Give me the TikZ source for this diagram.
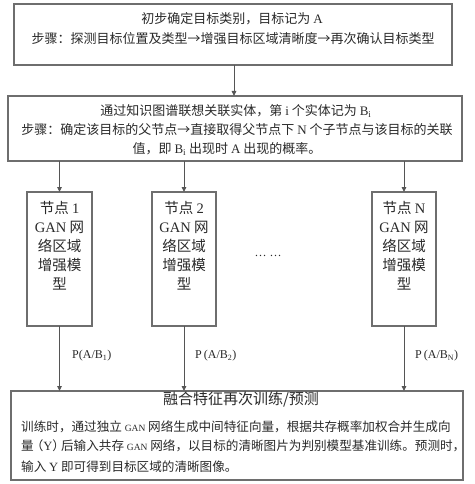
\documentclass[tikz,border=0pt]{standalone}
\usepackage{fontspec}
\setmainfont{Noto Sans CJK SC}
\newfontfamily\latf{Liberation Serif}
\usetikzlibrary{arrows.meta}
\definecolor{boxc}{HTML}{6E6E6E}
\definecolor{linec}{HTML}{555555}
\definecolor{textc}{HTML}{2A2A2A}
\newcommand{\smgan}{{\latf\fontsize{9.5}{10}\selectfont GAN}}
\begin{document}
\begin{tikzpicture}[x=1pt,y=-1pt,
  box/.style={draw=boxc, line width=1.1pt, inner sep=0pt, outer sep=0pt, anchor=north west},
  arr/.style={draw=linec, line width=0.9pt, -{Triangle[length=5pt,width=4.5pt]}},
  txt/.style={text=textc, inner sep=0pt, font=\fontsize{13}{19.5}\selectfont},
  btxt/.style={text=textc, inner sep=0pt, anchor=west, font=\fontsize{12.6}{19.5}\selectfont},
  ntxt/.style={text=textc, inner sep=0pt, align=center, font=\fontsize{14.5}{19}\selectfont},
  lbl/.style={text=textc, inner sep=0pt, anchor=west, font=\latf\fontsize{12}{14}\selectfont}]
\useasboundingbox (0,0) rectangle (474,484);
\fill[white] (0,0) rectangle (474,484);
% boxes
\node[box, minimum width=438pt, minimum height=61pt] (b1) at (14,4) {};
\node[box, minimum width=454pt, minimum height=65pt] (b2) at (8,96) {};
\node[box, minimum width=65pt, minimum height=134pt] (n1) at (27,192) {};
\node[box, minimum width=64pt, minimum height=134pt] (n2) at (152,192) {};
\node[box, minimum width=64pt, minimum height=134pt] (nN) at (372,192) {};
\node[box, minimum width=452pt, minimum height=89pt] (b3) at (11,391) {};
% texts box 1
\node[txt] (t11) at (232,19) {初步确定目标类别，目标记为 {\latf A}};
\node[txt] (t12) at (233,39) {步骤：探测目标位置及类型→增强目标区域清晰度→再次确认目标类型};
% texts box 2
\node[txt] (t21) at (236,111) {通过知识图谱联想关联实体，第 {\latf i} 个实体记为 {\latf B\textsubscript{i}}};
\node[txt] (t22) at (237,130) {步骤：确定该目标的父节点→直接取得父节点下 {\latf N} 个子节点与该目标的关联};
\node[txt] (t23) at (227,149) {值，即 {\latf B\textsubscript{i}} 出现时 {\latf A} 出现的概率。};
% node texts
\node[ntxt] (tn1) at (59.5,245.5) {节点 {\latf 1}\\{\latf GAN} 网\\络区域\\增强模\\型};
\node[ntxt] (tn2) at (184,245.5) {节点 {\latf 2}\\{\latf GAN} 网\\络区域\\增强模\\型};
\node[ntxt] (tnN) at (404,245.5) {节点 {\latf N}\\{\latf GAN} 网\\络区域\\增强模\\型};
\node[text=textc, inner sep=0pt, font=\latf\fontsize{12}{14}\selectfont] (dots) at (268,256) {\dots\ \dots};
% bottom box texts
\node[txt, font=\fontsize{15}{19}\selectfont] (t30) at (241,400) {融合特征再次训练/预测};
\node[btxt] (t31) at (21,427) {训练时，通过独立 \smgan\ 网络生成中间特征向量，根据共存概率加权合并生成向};
\node[btxt] (t32) at (21,446) {量\hspace{-3pt}（{\latf Y}）\hspace{-4pt}后输入共存 \smgan\ 网络，以目标的清晰图片为判别模型基准训练。预测时，};
\node[btxt] (t33) at (21,467) {输入 {\latf Y} 即可得到目标区域的清晰图像。};
% connectors
\draw[arr] (b1.south -| 234,0) -- (b2.north -| 234,0);
\draw[arr] (b2.south -| n1.north) -- (n1.north);
\draw[arr] (b2.south -| n2.north) -- (n2.north);
\draw[arr] (b2.south -| nN.north) -- (nN.north);
\draw[arr] (n1.south) -- (n1.south |- b3.north);
\draw[arr] (n2.south) -- (n2.south |- b3.north);
\draw[arr] (nN.south) -- (nN.south |- b3.north);
% labels
\node[lbl] (p1) at (72,356) {P(A/B\textsubscript{1})};
\node[lbl] (p2) at (195,356) {P\,(A/B\textsubscript{2})};
\node[lbl] (pN) at (415,356) {P\,(A/B\textsubscript{N})};
\end{tikzpicture}
\end{document}
